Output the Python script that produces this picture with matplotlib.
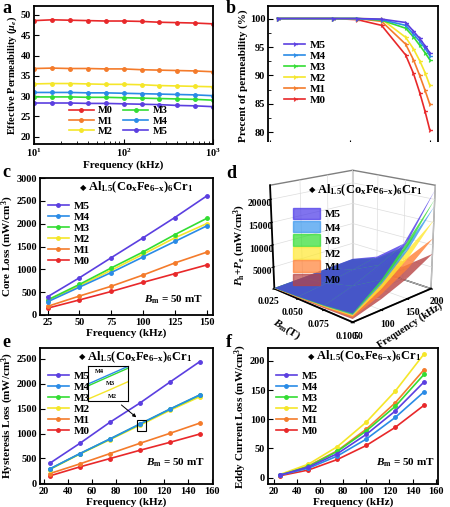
import numpy as np
import matplotlib
matplotlib.use("Agg")
import matplotlib.pyplot as plt
from matplotlib.patches import Patch, Rectangle
from matplotlib.ticker import MultipleLocator, FixedLocator, NullFormatter

plt.rcParams["font.family"] = ["Liberation Serif", "DejaVu Sans"]
plt.rcParams["font.weight"] = "bold"
plt.rcParams["axes.labelweight"] = "bold"
plt.rcParams["mathtext.fontset"] = "custom"
plt.rcParams["mathtext.rm"] = "Liberation Serif:bold"
plt.rcParams["mathtext.it"] = "Liberation Serif:italic:bold"
plt.rcParams["mathtext.bf"] = "Liberation Serif:bold"
plt.rcParams["axes.linewidth"] = 1.3
plt.rcParams["xtick.direction"] = "in"
plt.rcParams["ytick.direction"] = "in"
plt.rcParams["xtick.labelsize"] = 7.5
plt.rcParams["ytick.labelsize"] = 7.5
plt.rcParams["xtick.major.pad"] = 2
plt.rcParams["ytick.major.pad"] = 2

samples = ["M0", "M1", "M2", "M3", "M4", "M5"]
colors = {"M0": "#e8282a", "M1": "#f47b2b", "M2": "#f5e62a",
          "M3": "#33dd33", "M4": "#2a8be6", "M5": "#5b3fe0"}
colors3d = {"M0": "#b84444", "M1": "#ff8035", "M2": "#ffe830",
            "M3": "#30dd30", "M4": "#3a98ee", "M5": "#4a38e8"}

# (a) effective permeability vs frequency
freq_a = [10, 16, 25, 40, 63, 100, 160, 250, 400, 630, 1000]
perm_a = {
    "M0": [48.6, 48.8, 48.7, 48.6, 48.5, 48.5, 48.4, 48.2, 48.1, 48.0, 47.8],
    "M1": [36.8, 36.9, 36.8, 36.8, 36.7, 36.7, 36.5, 36.4, 36.3, 36.2, 36.0],
    "M2": [33.0, 33.1, 33.1, 33.0, 32.9, 32.9, 32.8, 32.6, 32.5, 32.4, 32.3],
    "M3": [29.8, 29.8, 29.8, 29.7, 29.7, 29.6, 29.5, 29.4, 29.3, 29.2, 29.0],
    "M4": [30.9, 30.9, 30.9, 30.8, 30.8, 30.7, 30.6, 30.5, 30.4, 30.3, 30.1],
    "M5": [28.3, 28.3, 28.3, 28.2, 28.2, 28.1, 28.0, 27.9, 27.7, 27.6, 27.4],
}

# (b) percent permeability vs applied field
field_b = [1.25, 6.25, 12.5, 25, 50, 62.5, 75, 87.5, 100]
pct_b = {
    "M5": [100, 100, 100, 99.9, 99.3, 97.8, 96.5, 95.2, 94.0],
    "M4": [100, 100, 100, 99.8, 98.8, 97.3, 96.0, 94.8, 93.5],
    "M3": [100, 100, 100, 99.7, 98.3, 96.8, 95.3, 94.0, 92.8],
    "M2": [100, 100, 100, 99.9, 96.7, 94.7, 92.6, 90.5, 88.3],
    "M1": [100, 100, 100, 99.5, 95.5, 92.8, 90.0, 87.4, 85.0],
    "M0": [100, 100, 99.8, 98.8, 93.6, 90.4, 87.0, 83.7, 80.5],
}

freq_loss = [25, 50, 75, 100, 125, 150]
# (c) core loss
core = {
    "M5": [400, 815, 1255, 1690, 2135, 2605],
    "M4": [290, 610, 930, 1270, 1610, 1950],
    "M3": [330, 670, 1030, 1380, 1760, 2115],
    "M2": [315, 640, 980, 1330, 1690, 2000],
    "M1": [190, 415, 630, 875, 1140, 1375],
    "M0": [150, 330, 515, 715, 905, 1095],
}
# (e) hysteresis loss
hyst = {
    "M5": [400, 800, 1223, 1611, 2032, 2446],
    "M4": [287, 595, 889, 1190, 1490, 1778],
    "M3": [283, 592, 886, 1187, 1487, 1772],
    "M2": [275, 585, 875, 1165, 1465, 1740],
    "M1": [194, 388, 595, 802, 1003, 1210],
    "M0": [147, 328, 495, 662, 822, 990],
}
# (f) eddy current loss
eddy = {
    "M5": [4, 18, 41, 74, 114, 164],
    "M4": [4, 16, 37, 66, 103, 147],
    "M3": [4, 19, 45, 80, 122, 177],
    "M2": [5, 23, 53, 95, 148, 212],
    "M1": [4, 20, 46, 83, 128, 185],
    "M0": [3, 13, 31, 55, 86, 124],
}

# (d) Ph+Pe surfaces: rows Bm, cols frequency
bm_d = [0.025, 0.050, 0.075, 0.100]
freq_d = [50, 100, 150, 200]
surf_d = {
    "M5": [[150, 400, 700, 1000], [500, 1300, 2300, 3500],
           [1000, 2900, 5500, 8500], [1800, 6500, 13000, 22000]],
    "M4": [[130, 340, 600, 850], [420, 1100, 1950, 2950],
           [850, 2450, 4650, 7150], [1500, 5500, 10900, 18500]],
    "M3": [[140, 360, 640, 910], [450, 1180, 2100, 3200],
           [900, 2650, 5000, 7750], [1650, 5900, 11800, 20000]],
    "M2": [[110, 280, 490, 700], [350, 910, 1600, 2450],
           [700, 2000, 3850, 5950], [1250, 4550, 9100, 15500]],
    "M1": [[80, 210, 360, 520], [260, 680, 1200, 1820],
           [520, 1500, 2850, 4400], [950, 3400, 6800, 11500]],
    "M0": [[55, 145, 250, 360], [180, 470, 830, 1260],
           [360, 1050, 2000, 3050], [650, 2350, 4700, 8000]],
}

formula = r"Al$_{1.5}$(Co$_\mathrm{x}$Fe$_{6\mathrm{-x}}$)$_6$Cr$_1$"
bm_text = r"$B_\mathrm{m}$ = 50 mT"
LBL = 8
FSZ = 9
order_desc = ["M5", "M4", "M3", "M2", "M1", "M0"]

W, H = 450, 507
fig = plt.figure(figsize=(4.5, 5.07), dpi=100)


def box(l, t, r, b):
    return [l / W, 1 - b / H, (r - l) / W, (b - t) / H]


def put_formula(ax, x, y):
    ax.text(x, y, formula, transform=ax.transAxes, ha="left", va="center",
            fontsize=FSZ, fontweight="bold")
    ax.text(x - 0.008, y, "◆", transform=ax.transAxes, ha="right", va="center",
            fontsize=6, family="DejaVu Sans")


def leg(ax, handles_order, **kw):
    h, l = ax.get_legend_handles_labels()
    d = dict(zip(l, h))
    ax.legend([d[k] for k in handles_order], handles_order, frameon=False,
              prop={"size": 8, "weight": "bold"}, handlelength=1.9,
              handletextpad=0.4, labelspacing=0.12, borderaxespad=0.3, **kw)


# ---- a
ax = fig.add_axes(box(34, 6, 213, 144))
for s in samples:
    ax.plot(freq_a, perm_a[s], color=colors[s], lw=1.2, marker="o", ms=2.5, label=s)
ax.set_xscale("log")
ax.set_xlim(10, 1000)
ax.set_ylim(18.2, 52.2)
ax.yaxis.set_major_locator(MultipleLocator(5))
ax.set_xlabel("Frequency (kHz)", fontsize=LBL, labelpad=1)
ax.set_ylabel(r"Effective Permeability ($\mu_e$)", fontsize=7.5, labelpad=1)
h, l = ax.get_legend_handles_labels()
ax.legend(h, l, ncol=2, loc="lower center", frameon=False, bbox_to_anchor=(0.47, -0.01),
          prop={"size": 7.5, "weight": "bold"}, handlelength=2.4, handletextpad=0.4,
          labelspacing=0.1, columnspacing=1.0)

# ---- b
ax = fig.add_axes(box(268, 6, 438, 145))
for s in samples:
    ax.plot(field_b, pct_b[s], color=colors[s], lw=1.2, marker="4", ms=3.5, label=s)
ax.set_xscale("log")
ax.set_xlim(0.95, 127)
ax.set_ylim(77.8, 102.2)
ax.xaxis.set_major_locator(FixedLocator([1, 10, 100]))
ax.set_xticklabels(["1", "10", "100"])
ax.xaxis.set_minor_formatter(NullFormatter())
ax.yaxis.set_major_locator(MultipleLocator(5))
ax.yaxis.set_minor_locator(MultipleLocator(2.5))
ax.set_xlabel("Applied field (Oe)", fontsize=LBL, labelpad=1)
ax.set_ylabel("Precent of permeability (%)", fontsize=LBL, labelpad=1)
leg(ax, order_desc, loc="center left", bbox_to_anchor=(0.05, 0.52))


def loss_panel(rect, data, ylim, xlim, xticks, yticks, ylabel, bmpos, fpos):
    ax = fig.add_axes(rect)
    for s in samples:
        ax.plot(freq_loss, data[s], color=colors[s], lw=1.2, marker="o", ms=2.5, label=s)
    ax.set_xlim(*xlim)
    ax.set_ylim(*ylim)
    ax.set_xticks(xticks)
    ax.set_yticks(yticks)
    ax.set_xlabel("Frequency (kHz)", fontsize=LBL, labelpad=1)
    ax.set_ylabel(ylabel, fontsize=LBL, labelpad=0.5)
    put_formula(ax, fpos[0], fpos[1])
    ax.text(bmpos[0], bmpos[1], bm_text, transform=ax.transAxes, ha="right", va="center",
            fontsize=8, fontweight="bold")
    leg(ax, order_desc, loc="upper left", bbox_to_anchor=(0.0, 0.89))
    return ax


# ---- c
loss_panel(box(40, 178, 213, 315), core, (0, 3000), (19, 155), freq_loss,
           range(0, 3001, 500), r"Core Loss (mW/cm$^3$)", (0.94, 0.11), (0.276, 0.934))

# ---- e
ax = loss_panel(box(40, 348, 213, 484), hyst, (-15, 2720), (17, 161), range(20, 161, 20),
                range(0, 2501, 500), r"Hysteresis Loss (mW/cm$^3$)", (0.95, 0.155), (0.27, 0.934))
ax.add_patch(Rectangle((97.5, 1050), 8, 230, fill=False, ec="black", lw=0.8, zorder=5))
ax.annotate("", xy=(99, 1290), xytext=(83, 1610),
            arrowprops=dict(arrowstyle="-|>", color="black", lw=0.7, mutation_scale=5))
ins = fig.add_axes(box(88, 366, 128, 401))
for s in ["M2", "M3", "M4"]:
    ins.plot(freq_loss, hyst[s], color=colors[s], lw=1.0)
ins.set_xlim(98.8, 101.2)
ins.set_ylim(1148, 1205)
ins.set_xticks([])
ins.set_yticks([])
for sp in ins.spines.values():
    sp.set_linewidth(0.8)
ins.text(0.28, 0.8, "M4", transform=ins.transAxes, fontsize=4.5, ha="center")
ins.text(0.55, 0.45, "M3", transform=ins.transAxes, fontsize=4.5, ha="center")
ins.text(0.62, 0.1, "M2", transform=ins.transAxes, fontsize=4.5, ha="center")

# ---- f
loss_panel(box(268, 348, 438, 484), eddy, (-11, 222), (15, 162), range(20, 161, 20),
           range(0, 201, 50), r"Eddy Current Loss (mW/cm$^3$)", (0.98, 0.155), (0.282, 0.94))

# ---- d
ax3 = fig.add_axes(box(205, 142, 495, 340), projection="3d")
X, Y = np.meshgrid(bm_d, freq_d, indexing="ij")
for s in samples:
    Z = np.array(surf_d[s], dtype=float)
    ax3.plot_surface(X, Y, Z, color=colors3d[s], alpha=0.8, shade=False, linewidth=0)
ax3.set_proj_type("persp", focal_length=0.55)
ax3.view_init(elev=17, azim=-45)
ax3.set_box_aspect((1, 1, 0.95), zoom=0.95)
ax3.set_xlim(0.025, 0.100)
ax3.set_ylim(50, 200)
ax3.set_zlim(0, 23000)
ax3.set_xticks(bm_d)
ax3.set_xticklabels(["0.025", "0.050", "0.075", "0.100"])
ax3.set_yticks(freq_d)
ax3.set_zticks([5000, 10000, 15000, 20000])
ax3.tick_params(labelsize=7, pad=-3)
ax3.zaxis.set_ticks_position("lower")
for a in (ax3.xaxis, ax3.yaxis, ax3.zaxis):
    a.pane.fill = False
    a.pane.set_edgecolor("black")
    a._axinfo["grid"]["color"] = "#dddddd"
    a._axinfo["grid"]["linewidth"] = 0.5
fig.text(240 / W, 1 - 245 / H, r"$P_\mathrm{h}$+$P_\mathrm{e}$ (mW/cm$^3$)", rotation=90,
         ha="center", va="center", fontsize=LBL, fontweight="bold")
fig.text(287 / W, 1 - 329 / H, r"$B_\mathrm{m}$(T)", rotation=-32,
         ha="center", va="center", fontsize=LBL, fontweight="bold")
fig.text(410 / W, 1 - 326 / H, "Frequency (kHz)", rotation=33,
         ha="center", va="center", fontsize=7.5, fontweight="bold")
fig.text(317 / W, 1 - 190 / H, formula, ha="left", va="center", fontsize=FSZ, fontweight="bold")
fig.text(315 / W, 1 - 190 / H, "◆", ha="right", va="center", fontsize=6, family="DejaVu Sans")
fig.legend([Patch(color=colors3d[s], alpha=0.7) for s in order_desc], order_desc,
           loc="upper left", bbox_to_anchor=(283 / W, 1 - 198 / H), frameon=False,
           prop={"size": 8, "weight": "bold"}, handlelength=2.4, handleheight=1.2,
           labelspacing=0.15, handletextpad=0.5)

# panel letters
for letter, (px, py) in zip("abcdef", [(2, 0), (226, 0), (2, 164), (226, 165), (2, 334), (226, 334)]):
    fig.text(px / W, 1 - py / H, letter, fontsize=13, fontweight="bold", va="top", ha="left")

fig.savefig("out.png", dpi=100)
